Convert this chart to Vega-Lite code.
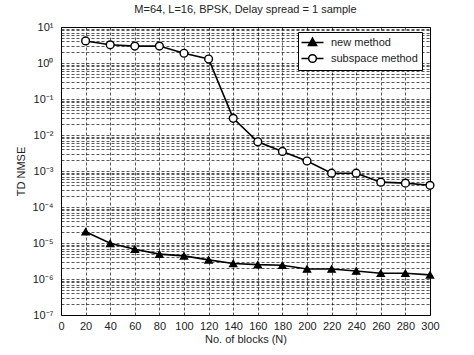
{
  "$schema": "https://vega.github.io/schema/vega-lite/v6.json",
  "width": 369,
  "height": 288,
  "autosize": {"type": "none"},
  "padding": {"left": 61, "top": 27, "right": 44, "bottom": 40},
  "background": "white",
  "config": {
    "font": "Liberation Sans",
    "view": {"stroke": "black", "strokeWidth": 1},
    "axis": {
      "domain": false,
      "ticks": false,
      "grid": true,
      "gridColor": "#000000",
      "gridDash": [3, 2],
      "gridOpacity": 0.65,
      "gridWidth": 1,
      "labelFont": "Liberation Sans",
      "labelFontSize": 11,
      "labelColor": "#222",
      "titleFont": "Liberation Sans",
      "titleFontSize": 11,
      "titleFontWeight": "normal",
      "titleColor": "#222"
    }
  },
  "title": {
    "text": "M=64, L=16, BPSK, Delay spread = 1 sample",
    "font": "Liberation Sans",
    "fontSize": 11,
    "fontWeight": "normal",
    "color": "#222",
    "offset": 6
  },
  "data": {
    "values": [
      {"N": 20, "method": "new method", "nmse": 2.06e-5},
      {"N": 40, "method": "new method", "nmse": 9.8e-6},
      {"N": 60, "method": "new method", "nmse": 6.7e-6},
      {"N": 80, "method": "new method", "nmse": 4.9e-6},
      {"N": 100, "method": "new method", "nmse": 4.4e-6},
      {"N": 120, "method": "new method", "nmse": 3.4e-6},
      {"N": 140, "method": "new method", "nmse": 2.7e-6},
      {"N": 160, "method": "new method", "nmse": 2.5e-6},
      {"N": 180, "method": "new method", "nmse": 2.4e-6},
      {"N": 200, "method": "new method", "nmse": 1.9e-6},
      {"N": 220, "method": "new method", "nmse": 1.9e-6},
      {"N": 240, "method": "new method", "nmse": 1.67e-6},
      {"N": 260, "method": "new method", "nmse": 1.44e-6},
      {"N": 280, "method": "new method", "nmse": 1.44e-6},
      {"N": 300, "method": "new method", "nmse": 1.3e-6},
      {"N": 20, "method": "subspace method", "nmse": 4.1},
      {"N": 40, "method": "subspace method", "nmse": 3.2},
      {"N": 60, "method": "subspace method", "nmse": 2.95},
      {"N": 80, "method": "subspace method", "nmse": 2.95},
      {"N": 100, "method": "subspace method", "nmse": 1.86},
      {"N": 120, "method": "subspace method", "nmse": 1.29},
      {"N": 140, "method": "subspace method", "nmse": 0.029},
      {"N": 160, "method": "subspace method", "nmse": 0.0065},
      {"N": 180, "method": "subspace method", "nmse": 0.0035},
      {"N": 200, "method": "subspace method", "nmse": 0.0019},
      {"N": 220, "method": "subspace method", "nmse": 0.00087},
      {"N": 240, "method": "subspace method", "nmse": 0.00087},
      {"N": 260, "method": "subspace method", "nmse": 0.00049},
      {"N": 280, "method": "subspace method", "nmse": 0.00046},
      {"N": 300, "method": "subspace method", "nmse": 0.0004}
    ]
  },
  "encoding": {
    "x": {
      "field": "N",
      "type": "quantitative",
      "scale": {"domain": [0, 300], "nice": false},
      "axis": {
        "title": "No. of blocks (N)",
        "values": [0, 20, 40, 60, 80, 100, 120, 140, 160, 180, 200, 220, 240, 260, 280, 300],
        "labelPadding": 5,
        "titlePadding": 2,
        "labelFlush": false
      }
    },
    "y": {
      "field": "nmse",
      "type": "quantitative",
      "scale": {"type": "log", "domain": [1e-7, 10], "nice": false},
      "axis": {
        "title": "TD NMSE",
        "titlePadding": 6,
        "labelPadding": 8,
        "labelFlush": false,
        "values": [1e-7, 2e-7, 3e-7, 4e-7, 5e-7, 6e-7, 7e-7, 8e-7, 9e-7,
                   1e-6, 2e-6, 3e-6, 4e-6, 5e-6, 6e-6, 7e-6, 8e-6, 9e-6,
                   1e-5, 2e-5, 3e-5, 4e-5, 5e-5, 6e-5, 7e-5, 8e-5, 9e-5,
                   1e-4, 2e-4, 3e-4, 4e-4, 5e-4, 6e-4, 7e-4, 8e-4, 9e-4,
                   0.001, 0.002, 0.003, 0.004, 0.005, 0.006, 0.007, 0.008, 0.009,
                   0.01, 0.02, 0.03, 0.04, 0.05, 0.06, 0.07, 0.08, 0.09,
                   0.1, 0.2, 0.3, 0.4, 0.5, 0.6, 0.7, 0.8, 0.9,
                   1, 2, 3, 4, 5, 6, 7, 8, 9, 10],
        "labelExpr": "abs(log(datum.value)/LN10 - round(log(datum.value)/LN10)) > 0.001 ? '' : (round(log(datum.value)/LN10) == 1 ? '10¹' : round(log(datum.value)/LN10) == 0 ? '10⁰' : round(log(datum.value)/LN10) == -1 ? '10⁻¹' : round(log(datum.value)/LN10) == -2 ? '10⁻²' : round(log(datum.value)/LN10) == -3 ? '10⁻³' : round(log(datum.value)/LN10) == -4 ? '10⁻⁴' : round(log(datum.value)/LN10) == -5 ? '10⁻⁵' : round(log(datum.value)/LN10) == -6 ? '10⁻⁶' : '10⁻⁷')"
      }
    }
  },
  "layer": [
    {
      "mark": {"type": "line", "color": "black", "strokeWidth": 1.6},
      "encoding": {"detail": {"field": "method"}}
    },
    {
      "mark": {"type": "point", "strokeWidth": 1.4, "opacity": 0, "size": 121},
      "encoding": {
        "shape": {
          "field": "method",
          "type": "nominal",
          "scale": {
            "domain": ["new method", "subspace method"],
            "range": [
              "M-2,0L2,0M0,-0.8L0.75,0.55L-0.75,0.55Z",
              "M-2,0L-0.7,0M0.7,0L2,0M-0.7,0A0.7,0.7 0 1,1 0.7,0A0.7,0.7 0 1,1 -0.7,0"
            ]
          },
          "legend": {
            "title": null,
            "orient": "none",
            "legendX": 237,
            "legendY": 5,
            "padding": 4,
            "strokeColor": "black",
            "fillColor": "white",
            "labelFont": "Liberation Sans",
            "labelFontSize": 11,
            "labelColor": "#222",
            "symbolSize": 121,
            "symbolOpacity": 1,
            "symbolStrokeWidth": 1.5,
            "symbolOffset": 4,
            "labelOffset": 12,
            "rowPadding": 2
          }
        },
        "fill": {
          "field": "method",
          "type": "nominal",
          "scale": {"domain": ["new method", "subspace method"], "range": ["black", "white"]}
        },
        "stroke": {
          "field": "method",
          "type": "nominal",
          "scale": {"domain": ["new method", "subspace method"], "range": ["black", "black"]}
        }
      }
    },
    {
      "transform": [{"filter": "datum.method == 'new method'"}],
      "mark": {"type": "point", "shape": "triangle-up", "stroke": "black", "fill": "black", "filled": true, "strokeWidth": 1.2, "opacity": 1, "size": 55}
    },
    {
      "transform": [{"filter": "datum.method == 'subspace method'"}],
      "mark": {"type": "point", "shape": "circle", "stroke": "black", "fill": "white", "filled": true, "strokeWidth": 1.4, "opacity": 1, "size": 60}
    }
  ]
}
